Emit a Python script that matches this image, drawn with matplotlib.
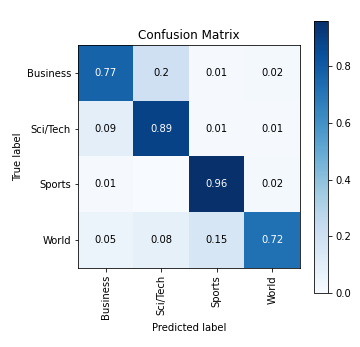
import numpy as np
import matplotlib
matplotlib.use("Agg")
import matplotlib.pyplot as plt

classes = ["Business", "Sci/Tech", "Sports", "World"]
row_business = [0.77, 0.20, 0.01, 0.02]
row_scitech = [0.09, 0.89, 0.01, 0.01]
row_sports = [0.01, 0.00, 0.96, 0.02]
row_world = [0.05, 0.08, 0.15, 0.72]

cm = np.array([row_business, row_scitech, row_sports, row_world])

W, H, DPI = 360, 347, 72
fig = plt.figure(figsize=(W / DPI, H / DPI), dpi=DPI)

ax = fig.add_axes([78 / W, 1 - 268 / H, 222 / W, 223 / H])
cax = fig.add_axes([314 / W, 1 - 293 / H, 14 / W, 272 / H])

im = ax.imshow(cm, interpolation="nearest", cmap=plt.cm.Blues, aspect="auto")
fig.colorbar(im, cax=cax)
ax.set_title("Confusion Matrix")

ticks = np.arange(len(classes))
ax.set_xticks(ticks)
ax.set_xticklabels(classes, rotation=90)
ax.set_yticks(ticks)
ax.set_yticklabels(classes)

thresh = cm.max() / 2.0
for i in range(cm.shape[0]):
    for j in range(cm.shape[1]):
        if cm[i, j] > 0:
            ax.text(j, i, f"{cm[i, j]:g}", ha="center", va="center",
                    color="white" if cm[i, j] > thresh else "black")

ax.set_ylabel("True label")
ax.set_xlabel("Predicted label")

fig.savefig("out.png", dpi=DPI)
